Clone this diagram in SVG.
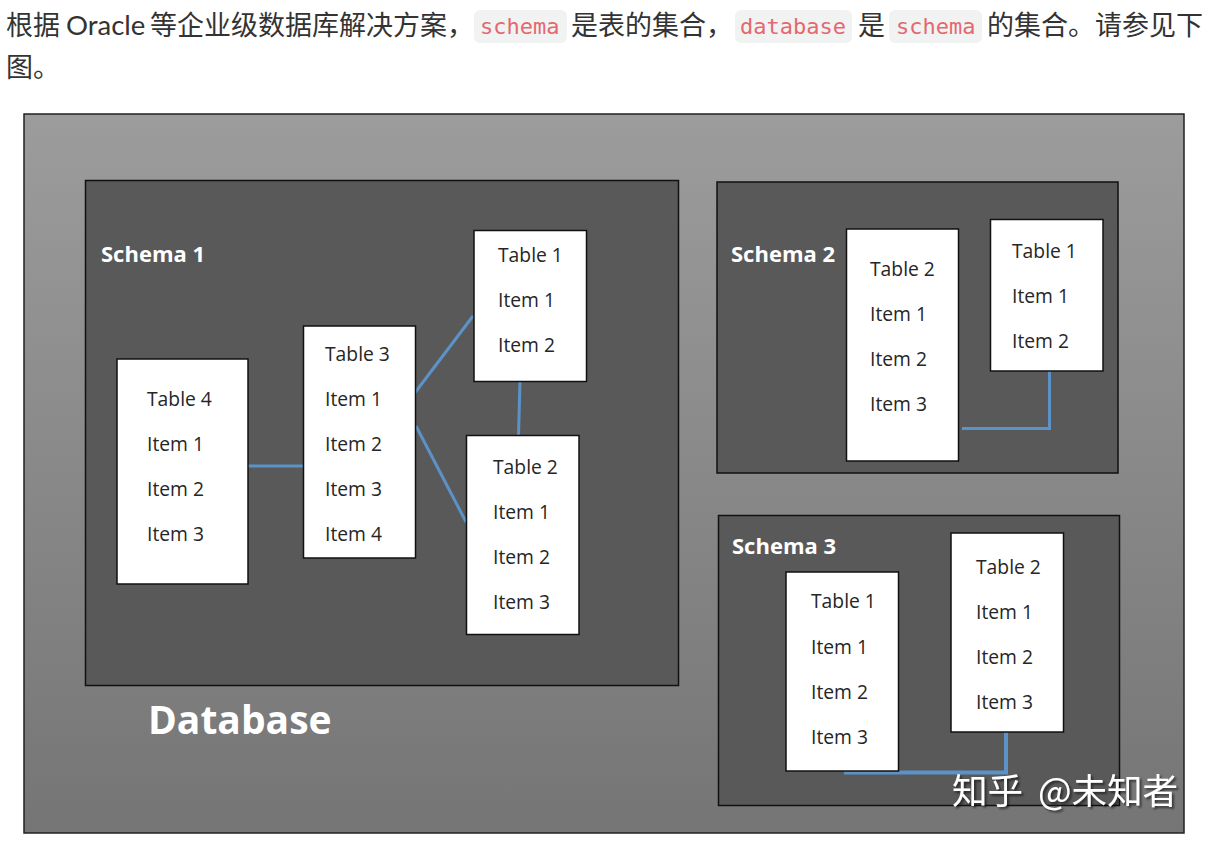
<svg xmlns="http://www.w3.org/2000/svg" width="1210" height="843" viewBox="0 0 1210 843">
<defs>
<linearGradient id="bg" x1="0" y1="0" x2="0" y2="1"><stop offset="0" stop-color="#9c9c9c"/><stop offset="1" stop-color="#757575"/></linearGradient>
<filter id="sh" x="-5%" y="-20%" width="110%" height="140%"><feDropShadow dx="2" dy="2" stdDeviation="1.2" flood-color="#000" flood-opacity="0.55"/></filter>
</defs>
<style>
.p{font-family:"Noto Sans CJK SC",sans-serif;font-size:27px;fill:#333;}
.o{font-family:"Lato",sans-serif;font-size:27.500px;fill:#333;}
.c{font-family:"DejaVu Sans Mono","Liberation Mono",monospace;font-size:22px;fill:#e5676f;}
.cb{fill:#f1f3f3;}
.schema{fill:#595959;stroke:#111;stroke-width:1.5;}
.tb{fill:#fff;stroke:#111;stroke-width:1.5;}
.t{font-family:"Open Sans","Noto Sans",sans-serif;font-size:19.300px;fill:#262626;}
.h{font-family:"Open Sans","Noto Sans",sans-serif;font-size:22px;font-weight:700;fill:#fff;}
.l{fill:none;stroke:#5b93c9;stroke-width:3;}
.w{font-family:"Noto Sans CJK SC",sans-serif;font-size:35.500px;fill:#fff;filter:url(#sh);}
</style>
<rect width="1210" height="843" fill="#fff"/>
<g id="intro">
<text class="p" x="6" y="35">根据</text>
<text class="o" x="66" y="35">Oracle</text>
<text class="p" x="150" y="35">等企业级数据库解决方案，</text>
<rect class="cb" x="474" y="10" width="93" height="33" rx="6"/>
<text class="c" x="480" y="34">schema</text>
<text class="p" x="571" y="35">是表的集合，</text>
<rect class="cb" x="735" y="10" width="117" height="33" rx="6"/>
<text class="c" x="740" y="34">database</text>
<text class="p" x="858" y="35">是</text>
<rect class="cb" x="889" y="10" width="93" height="33" rx="6"/>
<text class="c" x="896" y="34">schema</text>
<text class="p" x="987" y="35">的集合。请参见下</text>
<text class="p" x="6" y="77">图。</text>
</g>
<g id="database">
<rect x="24" y="114" width="1160" height="719" fill="url(#bg)" stroke="#222" stroke-width="1.5"/>
<text x="148" y="734" font-family="Open Sans, Noto Sans, sans-serif" font-size="39" font-weight="700" fill="#fff">Database</text>
</g>
<g id="schema1"><rect class="schema" x="85.500" y="180.500" width="593" height="505"/><text class="h" x="101" y="262">Schema 1</text></g>
<g id="schema2"><rect class="schema" x="717" y="182" width="401" height="291"/><text class="h" x="731" y="262">Schema 2</text></g>
<g id="schema3"><rect class="schema" x="718.500" y="515.500" width="401" height="290"/><text class="h" x="732" y="554">Schema 3</text></g>
<g id="connectors">
<path class="l" d="M248 466H304"/>
<path class="l" d="M414 394L473 316"/>
<path class="l" d="M416 426L466 522"/>
<path class="l" d="M520 381L518.500 436"/>
<path class="l" d="M962 428.500H1049.500V370"/>
<path class="l" d="M844 772.500H1006V731" style="stroke-width:4"/>
</g>
<g id="s1-table4"><rect class="tb" x="117" y="359" width="131" height="225"/><text class="t" x="147" y="406">Table 4</text><text class="t" x="147" y="451">Item 1</text><text class="t" x="147" y="496">Item 2</text><text class="t" x="147" y="541">Item 3</text></g>
<g id="s1-table3"><rect class="tb" x="303.500" y="326" width="112" height="232"/><text class="t" x="325" y="361">Table 3</text><text class="t" x="325" y="406">Item 1</text><text class="t" x="325" y="451">Item 2</text><text class="t" x="325" y="496">Item 3</text><text class="t" x="325" y="541">Item 4</text></g>
<g id="s1-table1"><rect class="tb" x="474" y="230.500" width="112.500" height="151"/><text class="t" x="498" y="262">Table 1</text><text class="t" x="498" y="307">Item 1</text><text class="t" x="498" y="352">Item 2</text></g>
<g id="s1-table2"><rect class="tb" x="466.500" y="435.500" width="112.500" height="199"/><text class="t" x="493" y="474">Table 2</text><text class="t" x="493" y="519">Item 1</text><text class="t" x="493" y="564">Item 2</text><text class="t" x="493" y="609">Item 3</text></g>
<g id="s2-table2"><rect class="tb" x="846.500" y="229" width="112" height="232"/><text class="t" x="870" y="276">Table 2</text><text class="t" x="870" y="321">Item 1</text><text class="t" x="870" y="366">Item 2</text><text class="t" x="870" y="411">Item 3</text></g>
<g id="s2-table1"><rect class="tb" x="990.500" y="219.500" width="112.500" height="151.500"/><text class="t" x="1012" y="258">Table 1</text><text class="t" x="1012" y="303">Item 1</text><text class="t" x="1012" y="348">Item 2</text></g>
<g id="s3-table1"><rect class="tb" x="786" y="572" width="112.500" height="199"/><text class="t" x="811" y="608">Table 1</text><text class="t" x="811" y="654">Item 1</text><text class="t" x="811" y="699">Item 2</text><text class="t" x="811" y="744">Item 3</text></g>
<g id="s3-table2"><rect class="tb" x="951" y="533" width="112.500" height="199"/><text class="t" x="976" y="574">Table 2</text><text class="t" x="976" y="619">Item 1</text><text class="t" x="976" y="664">Item 2</text><text class="t" x="976" y="709">Item 3</text></g>
<g id="watermark"><text class="w" x="952" y="804">知乎</text><text class="w" x="1038" y="804">@未知者</text></g>
</svg>
